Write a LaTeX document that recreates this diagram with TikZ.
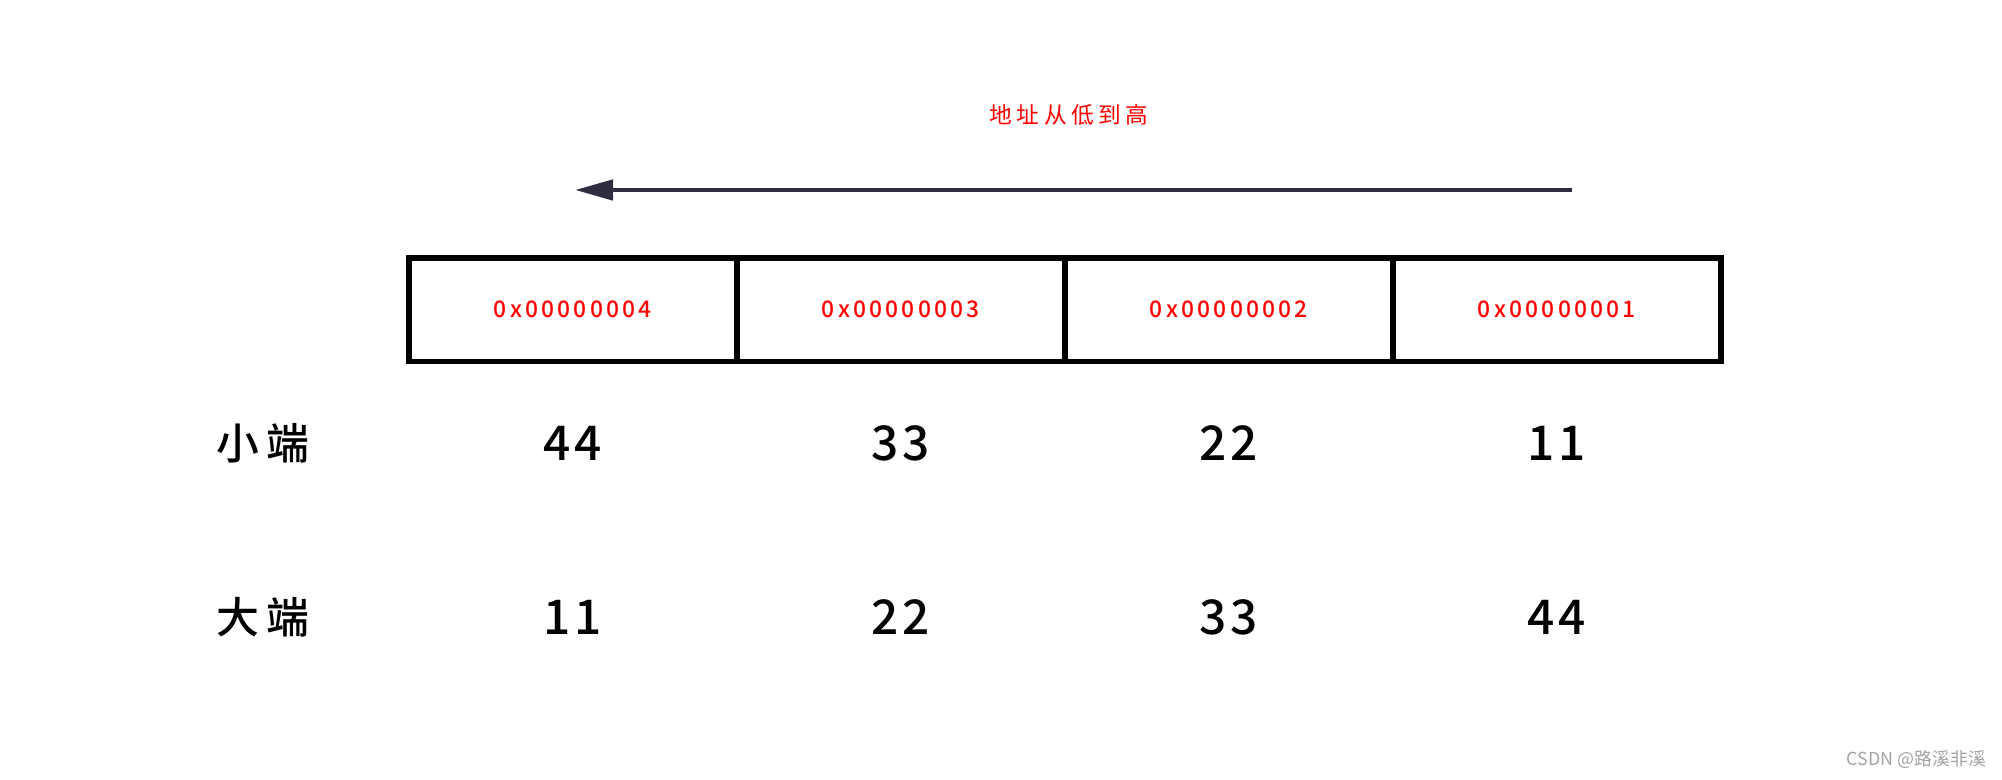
\documentclass[tikz,border=0pt]{standalone}
\usepackage{fontspec}
\setmainfont{Noto Sans CJK SC}
\newfontfamily\titlefont[LetterSpace=20]{Noto Sans CJK SC}
\newfontfamily\addrfont[LetterSpace=14, UprightFont={* Medium}]{Noto Sans CJK SC}
\newfontfamily\rowfont[LetterSpace=18, UprightFont={* Medium}]{Noto Sans CJK SC}
\newfontfamily\valfont[LetterSpace=8, UprightFont={* Medium}]{Noto Sans CJK SC}
\usepackage{tikz}
\usetikzlibrary{arrows.meta,positioning}
\definecolor{addrred}{HTML}{FF0000}
\definecolor{arrdark}{HTML}{2F2E41}
\definecolor{markgray}{HTML}{A3A3A3}

\begin{document}
\begin{tikzpicture}[
  cell/.style={draw=black, line width=0.055cm, outer sep=0pt, inner sep=0pt,
               minimum width=3.2805cm, minimum height=1.037cm,
               font={\addrfont\fontsize{6.5pt}{8pt}\selectfont}, text=addrred},
  rowlbl/.style={inner sep=0pt, font={\rowfont\fontsize{12.2pt}{14pt}\selectfont}},
  val/.style={inner sep=0pt, font={\valfont\fontsize{13.6pt}{16pt}\selectfont}},
  arr/.style={-{Triangle[length=0.38cm, width=0.2cm]}, line width=0.047cm, arrdark}
]
  \useasboundingbox (0,0) rectangle (20.02,-7.80);
  % address direction
  \node[font={\titlefont\fontsize{6.45pt}{8pt}\selectfont}, text=addrred] (title)
    at (10.69,-1.15) {地址从低到高};
  \coordinate (arrtail) at (15.72,-1.90);
  \coordinate (arrtip) at (5.75,-1.90);
  \draw[arr] (arrtail) -- (arrtip);
  % memory cells
  \node[cell] (c4) at (5.728,-3.0965) {0x00000004};
  \node[cell, right=0pt of c4] (c3) {0x00000003};
  \node[cell, right=0pt of c3] (c2) {0x00000002};
  \node[cell, right=0pt of c2] (c1) {0x00000001};
  % byte orders
  \node[rowlbl] (little) at (2.63,-4.43) {小端};
  \node[rowlbl] (big) at (2.63,-6.17) {大端};
  \node[val] (le4) at (c4 |- little) {44};
  \node[val] (le3) at (c3 |- little) {33};
  \node[val] (le2) at (c2 |- little) {22};
  \node[val] (le1) at (c1 |- little) {11};
  \node[val] (be4) at (c4 |- big) {11};
  \node[val] (be3) at (c3 |- big) {22};
  \node[val] (be2) at (c2 |- big) {33};
  \node[val] (be1) at (c1 |- big) {44};
  \node[anchor=east, inner sep=0pt, text=markgray,
        font={\fontsize{5.1pt}{6pt}\selectfont}] (mark) at (19.87,-7.60) {CSDN @路溪非溪};
\end{tikzpicture}
\end{document}
